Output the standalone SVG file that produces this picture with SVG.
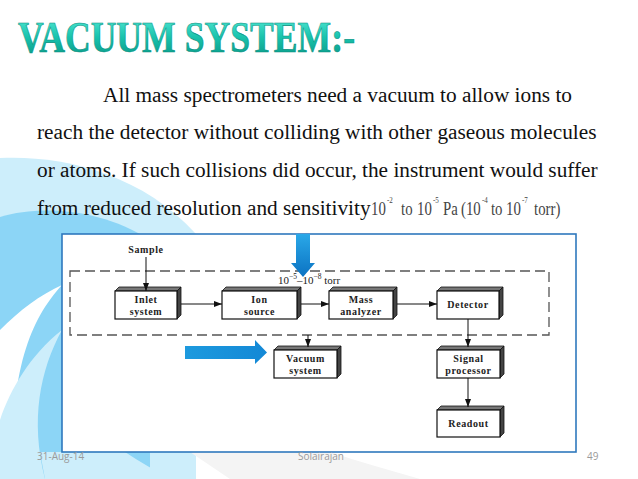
<svg xmlns="http://www.w3.org/2000/svg" width="638" height="479" viewBox="0 0 638 479">
<defs>
<linearGradient id="tg" x1="0" y1="0" x2="0" y2="1">
<stop offset="0" stop-color="#5ff0dc"/>
<stop offset="0.5" stop-color="#19c3ad"/>
<stop offset="1" stop-color="#08907f"/>
</linearGradient>
<linearGradient id="bg" x1="0" y1="0" x2="0" y2="1">
<stop offset="0" stop-color="#2aa8e8"/>
<stop offset="1" stop-color="#0b72c2"/>
</linearGradient>
<linearGradient id="bgh" x1="0" y1="0" x2="1" y2="0">
<stop offset="0" stop-color="#1d9ade"/>
<stop offset="1" stop-color="#1388d6"/>
</linearGradient>
<marker id="ah" viewBox="0 0 8 6" refX="8" refY="3" markerWidth="8" markerHeight="6" markerUnits="userSpaceOnUse" orient="auto">
<path d="M0,0 L8,3 L0,6 Z" fill="#111"/>
</marker>
</defs>
<style>
.para{font-family:"Liberation Serif","Times New Roman",serif;font-size:21.3px;fill:#111}
.sfx{font-family:"Liberation Serif","Times New Roman",serif;font-size:19px;fill:#444}
.sup{font-family:"Liberation Serif","Times New Roman",serif;font-size:9px;fill:#444}
.lbl{font-family:"Liberation Serif","Times New Roman",serif;font-size:10px;font-weight:bold;fill:#222;text-anchor:middle;letter-spacing:0.6px}
.face{fill:#fff;stroke:#111;stroke-width:1.2}
.top{fill:#777;stroke:#111;stroke-width:0.8}
.side{fill:#444;stroke:#111;stroke-width:0.8}
.conn{stroke:#111;stroke-width:1;fill:none;marker-end:url(#ah)}
.foot{font-family:"Open Sans","Liberation Sans",sans-serif;font-size:10px;fill:#9a9a9a}
</style>
<rect width="638" height="479" fill="#fff"/>
<g id="background">
<path d="M0,158 C60,155 140,172 196,234 L196,479 L0,479 Z" fill="#cdeefb"/>
<path d="M0,217 C40,205 100,208 150,240 L150,479 L0,479 Z" fill="#8cd5f6"/>
<path d="M62,285 C30,320 10,370 12,479 L0,479 L0,330 C20,310 40,295 62,285 Z" fill="#fff"/>
<path d="M62,330 C40,370 30,420 45,479 L0,479 L0,420 C10,390 30,355 62,330 Z" fill="#cdeefb"/>
<path d="M40,452 L125,452 C140,462 155,470 170,479 L45,479 Z" fill="#cdeefb"/>
<path d="M190,452 L330,452 C360,462 390,470 420,479 L230,479 Z" fill="#f4f4f4"/>
</g>
<g id="title">
<text x="18" y="52" font-family="Liberation Serif,serif" font-weight="bold" font-size="45" fill="url(#tg)" stroke="#0a8f80" stroke-width="0.6" textLength="337" lengthAdjust="spacingAndGlyphs">VACUUM SYSTEM:-</text>
</g>
<g id="paragraph">
<text class="para" x="103" y="102">All mass spectrometers need a vacuum to allow ions to</text>
<text class="para" x="37" y="139">reach the detector without colliding with other gaseous molecules</text>
<text class="para" x="37" y="177">or atoms. If such collisions did occur, the instrument would suffer</text>
<text class="para" x="37" y="215">from reduced resolution and sensitivity</text>
<g transform="translate(371,0) scale(0.78,1)">
<text class="sfx" x="0" y="215">10</text>
<text class="sup" x="20.5" y="203">-2</text>
<text class="sfx" x="38.5" y="215">to</text>
<text class="sfx" x="59" y="215">10</text>
<text class="sup" x="79.5" y="203">-5</text>
<text class="sfx" x="92.3" y="215">Pa</text>
<text class="sfx" x="115.4" y="215">(10</text>
<text class="sup" x="142.3" y="203">-4</text>
<text class="sfx" x="153.8" y="215">to</text>
<text class="sfx" x="173.1" y="215">10</text>
<text class="sup" x="193.6" y="203">-7</text>
<text class="sfx" x="209" y="215">torr)</text>
</g>
</g>
<g id="frame">
<rect x="62" y="234" width="514" height="218" fill="#fff" stroke="#2f78bd" stroke-width="1.6"/>
</g>
<g id="enclosure">
<rect x="70" y="271" width="479" height="64" fill="none" stroke="#555" stroke-width="1.3" stroke-dasharray="10 5"/>
<text x="278" y="284" font-family="Liberation Serif,serif" font-size="11" fill="#222">10<tspan font-size="7.5" dy="-5">−5</tspan><tspan dy="5">–10</tspan><tspan font-size="7.5" dy="-5">−8</tspan><tspan dy="5"> torr</tspan></text>
</g>
<g id="sample">
<text x="146" y="253" class="lbl">Sample</text>
</g>
<g id="inlet">
<polygon class="top" points="115,291 119,287 181,287 177,291"/>
<polygon class="side" points="177,291 181,287 181,315 177,319"/>
<rect class="face" x="115" y="291" width="62" height="28"/>
<text class="lbl" x="146" y="303">Inlet</text><text class="lbl" x="146" y="315">system</text>
</g>
<g id="ion">
<polygon class="top" points="222,291 226,287 301,287 297,291"/>
<polygon class="side" points="297,291 301,287 301,315 297,319"/>
<rect class="face" x="222" y="291" width="75" height="28"/>
<text class="lbl" x="259.5" y="303">Ion</text><text class="lbl" x="259.5" y="315">source</text>
</g>
<g id="mass">
<polygon class="top" points="329,291 333,287 397,287 393,291"/>
<polygon class="side" points="393,291 397,287 397,315 393,319"/>
<rect class="face" x="329" y="291" width="64" height="28"/>
<text class="lbl" x="361" y="303">Mass</text><text class="lbl" x="361" y="315">analyzer</text>
</g>
<g id="detector">
<polygon class="top" points="437,291 441,287 503,287 499,291"/>
<polygon class="side" points="499,291 503,287 503,315 499,319"/>
<rect class="face" x="437" y="291" width="62" height="28"/>
<text class="lbl" x="468" y="308">Detector</text>
</g>
<g id="vacuum">
<polygon class="top" points="274,350 278,346 341,346 337,350"/>
<polygon class="side" points="337,350 341,346 341,374 337,378"/>
<rect class="face" x="274" y="350" width="63" height="28"/>
<text class="lbl" x="305.5" y="362">Vacuum</text><text class="lbl" x="305.5" y="374">system</text>
</g>
<g id="signal">
<polygon class="top" points="437,350 441,346 504,346 500,350"/>
<polygon class="side" points="500,350 504,346 504,374 500,378"/>
<rect class="face" x="437" y="350" width="63" height="28"/>
<text class="lbl" x="468.5" y="362">Signal</text><text class="lbl" x="468.5" y="374">processor</text>
</g>
<g id="readout">
<polygon class="top" points="437,410 441,406 504,406 500,410"/>
<polygon class="side" points="500,410 504,406 504,433 500,437"/>
<rect class="face" x="437" y="410" width="63" height="27"/>
<text class="lbl" x="468.5" y="427">Readout</text>
</g>
<g id="connectors">
<line class="conn" x1="146" y1="257" x2="146" y2="291"/>
<line class="conn" x1="181" y1="304" x2="222" y2="304"/>
<line class="conn" x1="301" y1="304" x2="329" y2="304"/>
<line class="conn" x1="397" y1="304" x2="437" y2="304"/>
<line class="conn" x1="468" y1="319" x2="468" y2="347"/>
<line class="conn" x1="308" y1="335" x2="308" y2="347"/>
<line class="conn" x1="468" y1="378" x2="468" y2="407"/>
</g>
<g id="blue-arrows">
<polygon points="296,234 310,234 310,263 315,263 303,277 291,263 296,263" fill="url(#bg)"/>
<polygon points="185,346 255,346 255,340 267,352.5 255,364 255,359 185,359" fill="url(#bgh)"/>
</g>
<g id="footer">
<text class="foot" x="37" y="460">31-Aug-14</text>
<text class="foot" x="298" y="460">Solairajan</text>
<text class="foot" x="587" y="460">49</text>
</g>
</svg>
